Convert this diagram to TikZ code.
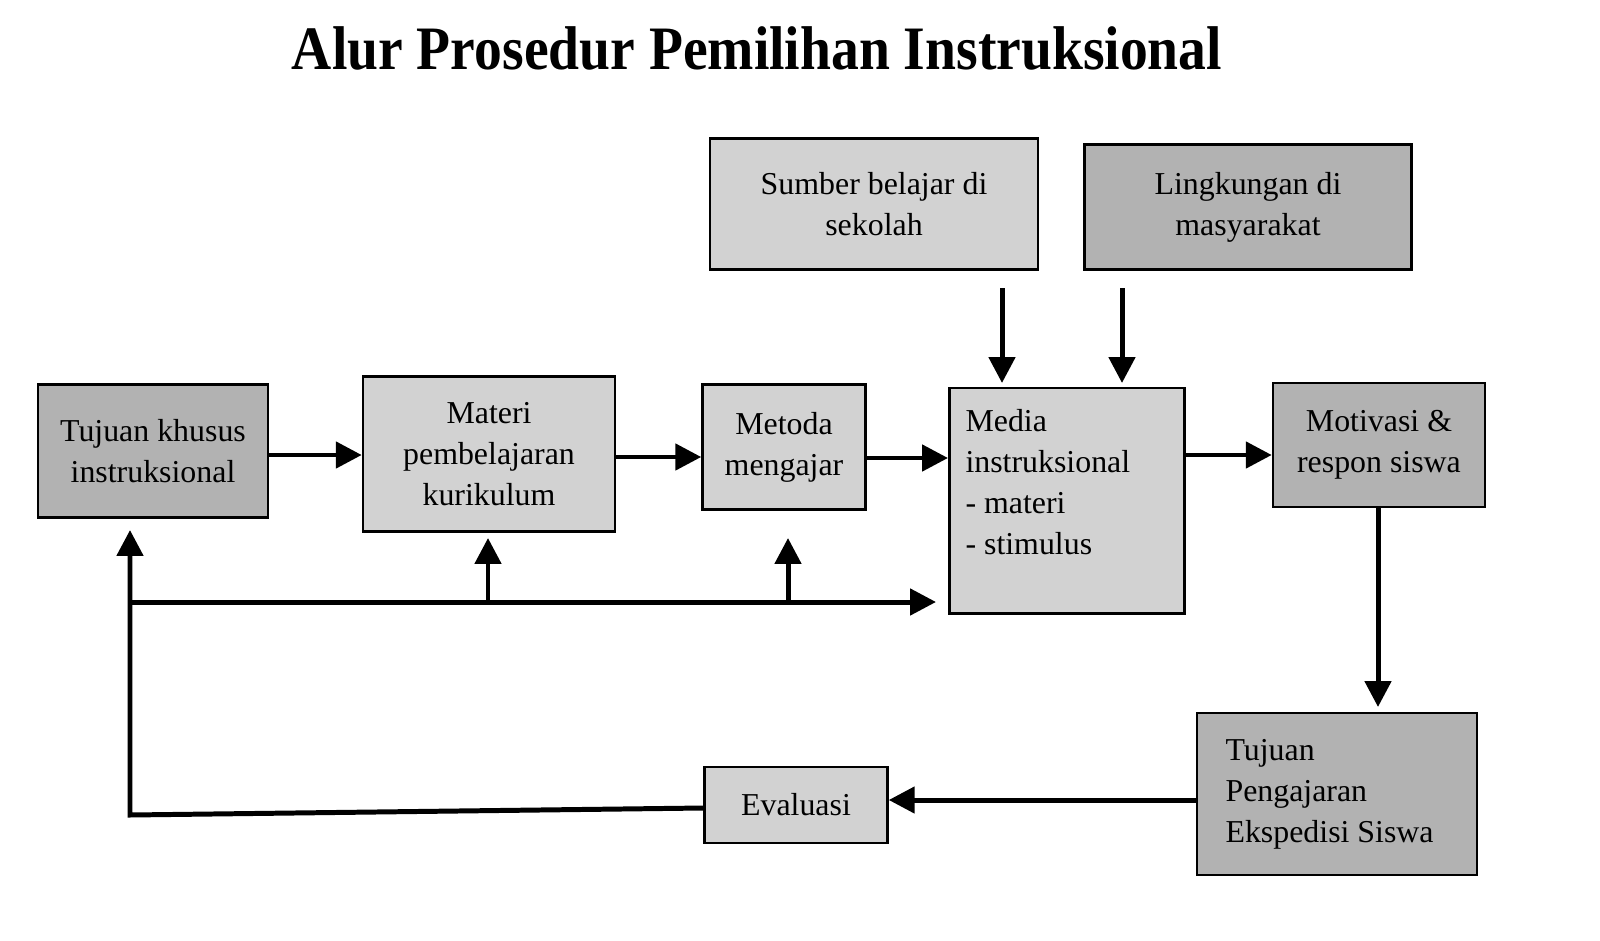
\documentclass[tikz,border=0pt]{standalone}
\usepackage{fontspec}
\setmainfont{Liberation Serif}
\usetikzlibrary{arrows.meta}
\begin{document}
\begin{tikzpicture}[x=1bp,y=-1bp,
  box/.style={draw=black,line width=2.5pt,inner sep=0pt,font=\fontsize{32}{41}\selectfont,align=center},
  lt/.style={fill=gray!35},
  dk/.style={fill=gray!60},
  ar/.style={line width=5pt,-{Triangle[length=26pt,width=26pt]}},
  ln/.style={line width=5pt}]
\useasboundingbox[fill=white] (0,0) rectangle (1600,940);
\node[font=\bfseries\fontsize{62}{62}\selectfont,xscale=0.9] (title) at (757,48) {Alur Prosedur Pemilihan Instruksional};
\node[box,dk,minimum width=230bp,minimum height=133bp] (tk) at (153,451) {Tujuan khusus\\instruksional};
\node[box,lt,minimum width=252bp,minimum height=155bp] (mp) at (489,454) {Materi\\pembelajaran\\kurikulum};
\node[box,lt,minimum width=163bp,minimum height=125bp] (mm) at (784,447) {Metoda\\mengajar};
\node[box,lt,minimum width=235bp,minimum height=225bp,align=left,anchor=north west] (mi) at (948,387) {};
\node[font=\fontsize{32}{41}\selectfont,align=left,anchor=north west] (mit) at (962,406) {Media\\instruksional\\- materi\\- stimulus};
\node[box,dk,minimum width=212bp,minimum height=124bp] (mo) at (1379,445) {Motivasi \&\\respon siswa};
\node[box,lt,minimum width=328bp,minimum height=131bp] (sb) at (874,204) {Sumber belajar di\\sekolah};
\node[box,dk,minimum width=327bp,minimum height=125bp] (lk) at (1248,207) {Lingkungan di\\masyarakat};
\node[box,dk,minimum width=280bp,minimum height=162bp] (tp) at (1337,794) {};
\node[font=\fontsize{32}{41}\selectfont,align=left,anchor=west] (tpt) at (1222,794) {Tujuan\\Pengajaran\\Ekspedisi Siswa};
\node[box,lt,minimum width=183bp,minimum height=76bp] (ev) at (796,805) {Evaluasi};
\coordinate (s1) at (1002,288); \coordinate (s2) at (1122,288);
\coordinate (c1) at (130,602); \coordinate (c2) at (130,815);
\coordinate (u1) at (488,602); \coordinate (u2) at (788,602);
\draw[ar] (tk.east|-0,455) -- (mp.west|-0,455);
\draw[ar] (mp.east|-0,457) -- (mm.west|-0,457);
\draw[ar] (mm.east|-0,458) -- (mi.west|-0,458);
\draw[ar] (mi.east|-0,455) -- (mo.west|-0,455);
\draw[ar] (s1) -- (1002,383);
\draw[ar] (s2) -- (1122,383);
\draw[ar] (mo.south-|1378,0) -- (1378,707);
\draw[ar] (tp.west|-0,800) -- (ev.east|-0,800);
\draw[ar] (ev.west|-0,808) -- (c2) -- (130,530);
\draw[ar] (c1) -- (936,602);
\draw[ar] (u1) -- (488,538);
\draw[ar] (u2) -- (788,538);
\end{tikzpicture}
\end{document}
